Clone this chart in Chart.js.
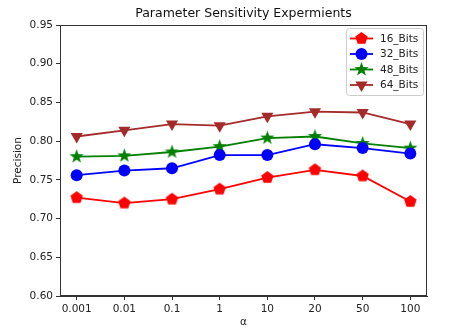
<!DOCTYPE html>
<html>
<head>
<meta charset="utf-8">
<script src="https://cdn.jsdelivr.net/npm/chart.js@4"></script>
<style>
  html, body { margin: 0; padding: 0; background: #fff; }
  #wrap { width: 474px; height: 334px; }
</style>
</head>
<body>
<div id="wrap"><canvas id="myChart" width="474" height="334"></canvas></div>
<script>
// valores
const alphas = ['0.001', '0.01', '0.1', '1', '10', '20', '50', '100'];
const bits16 = [0.727, 0.720, 0.725, 0.738, 0.753, 0.763, 0.755, 0.722];
const bits32 = [0.756, 0.762, 0.765, 0.782, 0.782, 0.796, 0.791, 0.784];
const bits48 = [0.780, 0.781, 0.786, 0.793, 0.804, 0.806, 0.797, 0.791];
const bits64 = [0.806, 0.814, 0.822, 0.820, 0.832, 0.838, 0.837, 0.822];
const yTicks = [0.60, 0.65, 0.70, 0.75, 0.80, 0.85, 0.90, 0.95];

const font = 'DejaVu Sans';
const titulo = 'Parameter Sensitivity Expermients';

// marcadores propios (pentagono y estrella rellenos)
function shape(color, sides, outer, inner) {
  const c = document.createElement('canvas');
  const s = Math.ceil(outer * 2 + 2);
  c.width = s; c.height = s;
  const g = c.getContext('2d');
  g.fillStyle = color;
  g.beginPath();
  const n = inner ? sides * 2 : sides;
  for (let i = 0; i < n; i++) {
    const r = inner && i % 2 ? inner : outer;
    const a = -Math.PI / 2 + i * Math.PI * 2 / n;
    const px = s / 2 + r * Math.cos(a), py = s / 2 + r * Math.sin(a);
    i ? g.lineTo(px, py) : g.moveTo(px, py);
  }
  g.closePath();
  g.fill();
  return c;
}
const pentagon = shape('#ff0000', 5, 6.5);
const star = shape('#008000', 5, 7.5, 3);

const toXY = arr => arr.map((v, i) => ({ x: i, y: v }));

const series = [
  { label: '16_Bits', data: bits16, color: '#ff0000', style: pentagon, radius: 6, rotation: 0 },
  { label: '32_Bits', data: bits32, color: '#0000ff', style: 'circle', radius: 6, rotation: 0 },
  { label: '48_Bits', data: bits48, color: '#008000', style: star, radius: 7, rotation: 0 },
  { label: '64_Bits', data: bits64, color: '#a52a2a', style: 'triangle', radius: 7, rotation: 180 }
];

// titulo, leyenda estilo matplotlib + marco
const frameLegend = {
  id: 'frameLegend',
  afterDraw(chart) {
    const { ctx, chartArea: a } = chart;
    ctx.save();
    ctx.strokeStyle = '#333';
    ctx.lineWidth = 1;
    ctx.strokeRect(a.left + 0.5, a.top + 0.5, a.right - a.left - 1, a.bottom - a.top - 1);

    ctx.fillStyle = '#111';
    ctx.font = '12.5px "' + font + '"';
    ctx.textAlign = 'center';
    ctx.textBaseline = 'middle';
    ctx.fillText(titulo, (a.left + a.right) / 2, 14);

    const bx = 346, by = 28, bw = 77, bh = 67;
    ctx.fillStyle = 'rgba(255,255,255,0.8)';
    ctx.strokeStyle = '#cccccc';
    ctx.beginPath();
    ctx.roundRect(bx + 0.5, by + 0.5, bw, bh, 3);
    ctx.fill();
    ctx.stroke();

    ctx.font = '10.5px "' + font + '"';
    ctx.textAlign = 'left';
    series.forEach((s, i) => {
      const y = 38.5 + i * 15.5;
      ctx.strokeStyle = s.color;
      ctx.lineWidth = 1.8;
      ctx.beginPath();
      ctx.moveTo(350, y);
      ctx.lineTo(373, y);
      ctx.stroke();
      ctx.fillStyle = s.color;
      Chart.helpers.drawPoint(ctx, { pointStyle: s.style, radius: s.radius, rotation: s.rotation, borderWidth: 0 }, 361.5, y);
      ctx.fillStyle = '#222';
      ctx.fillText(s.label, 380, y + 0.5);
    });
    ctx.restore();
  }
};

const ctx = document.getElementById('myChart').getContext('2d');
const myChart = new Chart(ctx, {
  type: 'line',
  data: {
    datasets: series.map(s => ({
      label: s.label,
      data: toXY(s.data),
      borderColor: s.color,
      backgroundColor: s.color,
      borderWidth: 1.8,
      pointStyle: s.style,
      pointRadius: s.radius,
      pointRotation: s.rotation,
      pointBorderWidth: 0,
      tension: 0
    }))
  },
  options: {
    responsive: false,
    animation: false,
    layout: { padding: { left: 0, right: 47, top: 25, bottom: 0 } },
    plugins: {
      legend: { display: false },
      tooltip: { enabled: false },
      title: { display: false }
    },
    scales: {
      x: {
        type: 'linear',
        min: -0.35,
        max: 7.35,
        afterBuildTicks: s => { s.ticks = alphas.map((_, i) => ({ value: i })); },
        afterFit: s => { s.height = 38; },
        grid: { drawOnChartArea: false, tickLength: 4, color: '#333' },
        border: { color: '#333' },
        ticks: {
          color: '#222',
          padding: 3,
          maxRotation: 0,
          font: { family: font, size: 10.5 },
          callback: v => alphas[v]
        },
        title: {
          display: true,
          text: 'α',
          color: '#222',
          font: { family: font, size: 10.5 },
          padding: { top: 2, bottom: 5 }
        }
      },
      y: {
        min: 0.60,
        max: 0.95,
        afterBuildTicks: s => { s.ticks = yTicks.map(v => ({ value: v })); },
        afterFit: s => { s.width = 60; },
        grid: { drawOnChartArea: false, tickLength: 4, color: '#333' },
        border: { color: '#333' },
        ticks: {
          color: '#222',
          padding: 3,
          font: { family: font, size: 10.5 },
          callback: v => v.toFixed(2)
        },
        title: {
          display: true,
          text: 'Precision',
          color: '#222',
          font: { family: font, size: 10.5 },
          padding: { top: 12, bottom: 2 }
        }
      }
    }
  },
  plugins: [frameLegend]
});
</script>
</body>
</html>
